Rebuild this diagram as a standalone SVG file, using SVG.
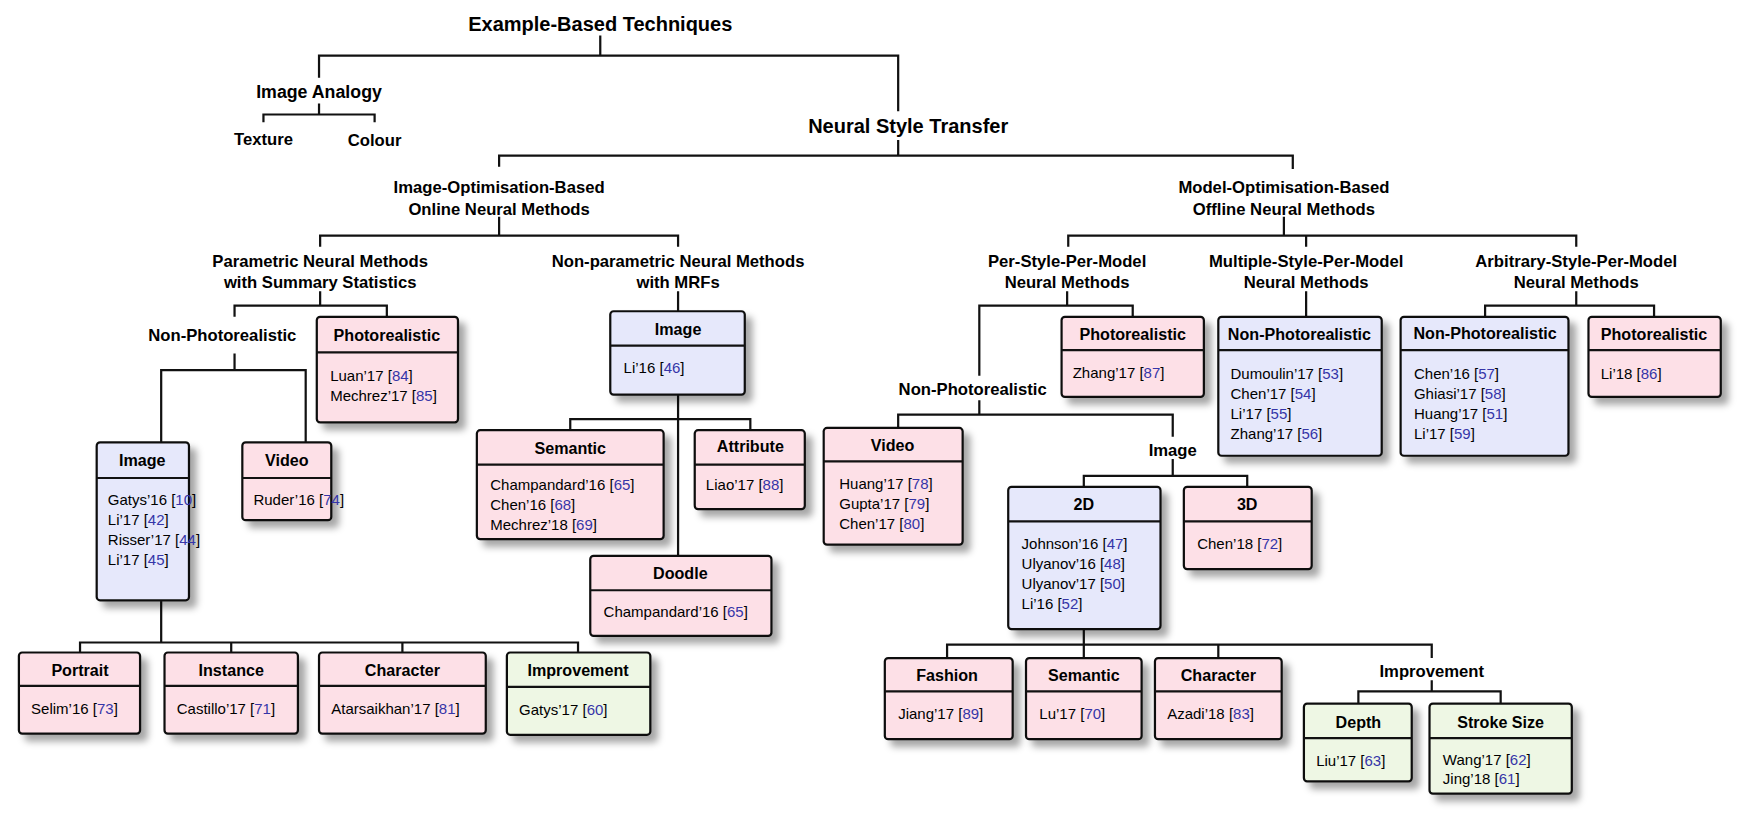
<svg xmlns="http://www.w3.org/2000/svg" width="1743" height="822" viewBox="0 0 1743 822">
<defs>
<filter id="sh" x="-20%" y="-20%" width="150%" height="150%"><feDropShadow dx="6" dy="6" stdDeviation="3.5" flood-color="#000" flood-opacity="0.35"/></filter>
<style>
text{font-family:"Liberation Sans",Arial,sans-serif;fill:#000}
.t{font-weight:bold;text-anchor:middle;font-size:15px}
.h{font-weight:bold;text-anchor:middle;font-size:14.5px}
.b{font-size:13.5px}
.c{fill:#3535a8}
.box{stroke:#111;stroke-width:2;filter:url(#sh)}
.p{fill:#fde0e7}.u{fill:#e6e8fb}.g{fill:#eef7e4}
.sep{stroke:#111;stroke-width:2}
.con path{fill:none;stroke:#111;stroke-width:2}
</style>
</defs>
<rect width="1743" height="822" fill="#fff"/>
<g transform="scale(1.1116)">
<g class="con">
<path d="M540 32V50M287 70V50H808V100"/>
<path d="M287 93V103M237 110V103H337V110"/>
<path d="M808 126V140M449 150V140H1163V152"/>
<path d="M449 195V212M288 222V212H610V222"/>
<path d="M1155 195V212M961 222V212H1418V222M1175 212V222"/>
<path d="M288 262V275M211 285V275H348V285"/>
<path d="M211 318V333M145 398V333H275V398"/>
<path d="M145 540V578M72 587V578H520V587M208 578V587M362 578V587"/>
<path d="M610 262V280M610 355V500M513 387V377H675V387"/>
<path d="M960 262V275M881 338V275H1019V285"/>
<path d="M881 360V373M808 385V373H1055V393"/>
<path d="M1055 413V428M975 438V428H1122V438"/>
<path d="M975 566V580M852 592V580H1288V592M975 580V592M1096 580V592"/>
<path d="M1288 612V622M1222 633V622H1350V633"/>
<path d="M1175 262V285"/>
<path d="M1418 262V275M1336 285V275H1488V285"/>
</g>
<text class="t" x="540" y="28" style="font-size:18px">Example-Based Techniques</text>
<text class="t" x="287" y="88" style="font-size:16px">Image Analogy</text>
<text class="t" x="237" y="130">Texture</text>
<text class="t" x="337" y="131">Colour</text>
<text class="t" x="817" y="120" style="font-size:18px">Neural Style Transfer</text>
<g class="t"><text class="t" x="449" y="174">Image-Optimisation-Based</text><text class="t" x="449" y="193">Online Neural Methods</text></g>
<g><text class="t" x="1155" y="174">Model-Optimisation-Based</text><text class="t" x="1155" y="193">Offline Neural Methods</text></g>
<g><text class="t" x="288" y="240">Parametric Neural Methods</text><text class="t" x="288" y="259">with Summary Statistics</text></g>
<g><text class="t" x="610" y="240">Non-parametric Neural Methods</text><text class="t" x="610" y="259">with MRFs</text></g>
<g><text class="t" x="960" y="240">Per-Style-Per-Model</text><text class="t" x="960" y="259">Neural Methods</text></g>
<g><text class="t" x="1175" y="240">Multiple-Style-Per-Model</text><text class="t" x="1175" y="259">Neural Methods</text></g>
<g><text class="t" x="1418" y="240">Arbitrary-Style-Per-Model</text><text class="t" x="1418" y="259">Neural Methods</text></g>
<text class="t" x="200" y="307">Non-Photorealistic</text>
<text class="t" x="875" y="355">Non-Photorealistic</text>
<text class="t" x="1055" y="410">Image</text>
<text class="t" x="1288" y="609">Improvement</text>

<g id="n-photo-l"><rect class="box p" x="285" y="285" width="127" height="95" rx="3"/><line class="sep" x1="285" y1="317" x2="412" y2="317"/><text class="h" x="348" y="307">Photorealistic</text><text class="b" x="297" y="343">Luan’17 [<tspan class="c">84</tspan>]</text><text class="b" x="297" y="361">Mechrez’17 [<tspan class="c">85</tspan>]</text></g>
<g id="n-image-l"><rect class="box u" x="87" y="398" width="83" height="142" rx="3"/><line class="sep" x1="87" y1="430" x2="170" y2="430"/><text class="h" x="128" y="419">Image</text><text class="b" x="97" y="454">Gatys’16 [<tspan class="c">10</tspan>]</text><text class="b" x="97" y="472">Li’17 [<tspan class="c">42</tspan>]</text><text class="b" x="97" y="490">Risser’17 [<tspan class="c">44</tspan>]</text><text class="b" x="97" y="508">Li’17 [<tspan class="c">45</tspan>]</text></g>
<g id="n-video-l"><rect class="box p" x="218" y="398" width="80" height="70" rx="3"/><line class="sep" x1="218" y1="430" x2="298" y2="430"/><text class="h" x="258" y="419">Video</text><text class="b" x="228" y="454">Ruder’16 [<tspan class="c">74</tspan>]</text></g>
<g id="n-portrait"><rect class="box p" x="17" y="587" width="109" height="73" rx="3"/><line class="sep" x1="17" y1="617" x2="126" y2="617"/><text class="h" x="72" y="608">Portrait</text><text class="b" x="28" y="642">Selim’16 [<tspan class="c">73</tspan>]</text></g>
<g id="n-instance"><rect class="box p" x="148" y="587" width="120" height="73" rx="3"/><line class="sep" x1="148" y1="617" x2="268" y2="617"/><text class="h" x="208" y="608">Instance</text><text class="b" x="159" y="642">Castillo’17 [<tspan class="c">71</tspan>]</text></g>
<g id="n-char-l"><rect class="box p" x="287" y="587" width="150" height="73" rx="3"/><line class="sep" x1="287" y1="617" x2="437" y2="617"/><text class="h" x="362" y="608">Character</text><text class="b" x="298" y="642">Atarsaikhan’17 [<tspan class="c">81</tspan>]</text></g>
<g id="n-impr-l"><rect class="box g" x="456" y="587" width="129" height="74" rx="3"/><line class="sep" x1="456" y1="618" x2="585" y2="618"/><text class="h" x="520" y="608">Improvement</text><text class="b" x="467" y="643">Gatys’17 [<tspan class="c">60</tspan>]</text></g>
<g id="n-image-m"><rect class="box u" x="549" y="280" width="121" height="75" rx="3"/><line class="sep" x1="549" y1="311" x2="670" y2="311"/><text class="h" x="610" y="301">Image</text><text class="b" x="561" y="336">Li’16 [<tspan class="c">46</tspan>]</text></g>
<g id="n-semantic-m"><rect class="box p" x="429" y="387" width="168" height="98" rx="3"/><line class="sep" x1="429" y1="418" x2="597" y2="418"/><text class="h" x="513" y="408">Semantic</text><text class="b" x="441" y="441">Champandard’16 [<tspan class="c">65</tspan>]</text><text class="b" x="441" y="459">Chen’16 [<tspan class="c">68</tspan>]</text><text class="b" x="441" y="477">Mechrez’18 [<tspan class="c">69</tspan>]</text></g>
<g id="n-attr"><rect class="box p" x="625" y="387" width="99" height="71" rx="3"/><line class="sep" x1="625" y1="418" x2="724" y2="418"/><text class="h" x="675" y="407">Attribute</text><text class="b" x="635" y="441">Liao’17 [<tspan class="c">88</tspan>]</text></g>
<g id="n-doodle"><rect class="box p" x="531" y="500" width="163" height="72" rx="3"/><line class="sep" x1="531" y1="531" x2="694" y2="531"/><text class="h" x="612" y="521">Doodle</text><text class="b" x="543" y="555">Champandard’16 [<tspan class="c">65</tspan>]</text></g>
<g id="n-photo-ps"><rect class="box p" x="955" y="285" width="128" height="72" rx="3"/><line class="sep" x1="955" y1="315" x2="1083" y2="315"/><text class="h" x="1019" y="306">Photorealistic</text><text class="b" x="965" y="340">Zhang’17 [<tspan class="c">87</tspan>]</text></g>
<g id="n-video-r"><rect class="box p" x="741" y="385" width="125" height="105" rx="3"/><line class="sep" x1="741" y1="415" x2="866" y2="415"/><text class="h" x="803" y="406">Video</text><text class="b" x="755" y="440">Huang’17 [<tspan class="c">78</tspan>]</text><text class="b" x="755" y="458">Gupta’17 [<tspan class="c">79</tspan>]</text><text class="b" x="755" y="476">Chen’17 [<tspan class="c">80</tspan>]</text></g>
<g id="n-2d"><rect class="box u" x="907" y="438" width="137" height="128" rx="3"/><line class="sep" x1="907" y1="469" x2="1044" y2="469"/><text class="h" x="975" y="459">2D</text><text class="b" x="919" y="494">Johnson’16 [<tspan class="c">47</tspan>]</text><text class="b" x="919" y="512">Ulyanov’16 [<tspan class="c">48</tspan>]</text><text class="b" x="919" y="530">Ulyanov’17 [<tspan class="c">50</tspan>]</text><text class="b" x="919" y="548">Li’16 [<tspan class="c">52</tspan>]</text></g>
<g id="n-3d"><rect class="box p" x="1065" y="438" width="115" height="74" rx="3"/><line class="sep" x1="1065" y1="469" x2="1180" y2="469"/><text class="h" x="1122" y="459">3D</text><text class="b" x="1077" y="494">Chen’18 [<tspan class="c">72</tspan>]</text></g>
<g id="n-fashion"><rect class="box p" x="796" y="592" width="115" height="73" rx="3"/><line class="sep" x1="796" y1="622" x2="911" y2="622"/><text class="h" x="852" y="613">Fashion</text><text class="b" x="808" y="647">Jiang’17 [<tspan class="c">89</tspan>]</text></g>
<g id="n-semantic-r"><rect class="box p" x="923" y="592" width="104" height="73" rx="3"/><line class="sep" x1="923" y1="622" x2="1027" y2="622"/><text class="h" x="975" y="613">Semantic</text><text class="b" x="935" y="647">Lu’17 [<tspan class="c">70</tspan>]</text></g>
<g id="n-char-r"><rect class="box p" x="1039" y="592" width="114" height="73" rx="3"/><line class="sep" x1="1039" y1="622" x2="1153" y2="622"/><text class="h" x="1096" y="613">Character</text><text class="b" x="1050" y="647">Azadi’18 [<tspan class="c">83</tspan>]</text></g>
<g id="n-depth"><rect class="box g" x="1173" y="633" width="97" height="70" rx="3"/><line class="sep" x1="1173" y1="664" x2="1270" y2="664"/><text class="h" x="1222" y="655">Depth</text><text class="b" x="1184" y="689">Liu’17 [<tspan class="c">63</tspan>]</text></g>
<g id="n-stroke"><rect class="box g" x="1286" y="633" width="128" height="81" rx="3"/><line class="sep" x1="1286" y1="664" x2="1414" y2="664"/><text class="h" x="1350" y="655">Stroke Size</text><text class="b" x="1298" y="688">Wang’17 [<tspan class="c">62</tspan>]</text><text class="b" x="1298" y="705">Jing’18 [<tspan class="c">61</tspan>]</text></g>
<g id="n-np-multi"><rect class="box u" x="1096" y="285" width="147" height="125" rx="3"/><line class="sep" x1="1096" y1="315" x2="1243" y2="315"/><text class="h" x="1169" y="306">Non-Photorealistic</text><text class="b" x="1107" y="341">Dumoulin’17 [<tspan class="c">53</tspan>]</text><text class="b" x="1107" y="359">Chen’17 [<tspan class="c">54</tspan>]</text><text class="b" x="1107" y="377">Li’17 [<tspan class="c">55</tspan>]</text><text class="b" x="1107" y="395">Zhang’17 [<tspan class="c">56</tspan>]</text></g>
<g id="n-np-arb"><rect class="box u" x="1260" y="285" width="151" height="125" rx="3"/><line class="sep" x1="1260" y1="315" x2="1411" y2="315"/><text class="h" x="1336" y="305">Non-Photorealistic</text><text class="b" x="1272" y="341">Chen’16 [<tspan class="c">57</tspan>]</text><text class="b" x="1272" y="359">Ghiasi’17 [<tspan class="c">58</tspan>]</text><text class="b" x="1272" y="377">Huang’17 [<tspan class="c">51</tspan>]</text><text class="b" x="1272" y="395">Li’17 [<tspan class="c">59</tspan>]</text></g>
<g id="n-photo-arb"><rect class="box p" x="1429" y="285" width="119" height="72" rx="3"/><line class="sep" x1="1429" y1="315" x2="1548" y2="315"/><text class="h" x="1488" y="306">Photorealistic</text><text class="b" x="1440" y="341">Li’18 [<tspan class="c">86</tspan>]</text></g>
</g>
</svg>
